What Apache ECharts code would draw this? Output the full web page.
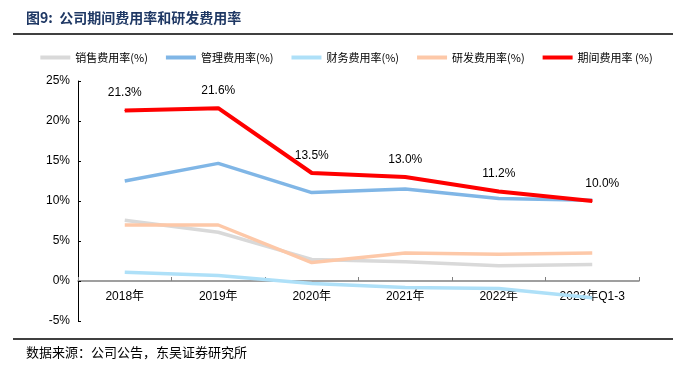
<!DOCTYPE html>
<html><head><meta charset="utf-8">
<script src="https://cdn.jsdelivr.net/npm/echarts@6/dist/echarts.min.js"></script>
<style>html,body{margin:0;padding:0;background:#fff}#c{width:693px;height:374px}</style>
</head><body><div id="c"></div>
<script>
var categories = ['2018年','2019年','2020年','2021年','2022年','2023年Q1-3'];
var sales = [7.6, 6.1, 2.7, 2.4, 1.9, 2.05];
var admin = [12.5, 14.7, 11.05, 11.5, 10.3, 10.1];
var finance = [1.1, 0.7, -0.3, -0.8, -0.95, -2.1];
var rnd = [7.0, 7.0, 2.3, 3.5, 3.35, 3.5];
var period = [21.3, 21.6, 13.5, 13.0, 11.2, 10.0];
var seriesNames = ['销售费用率(%)','管理费用率(%)','财务费用率(%)','研发费用率(%)','期间费用率 (%)'];
var yTicks = [-5, 0, 5, 10, 15, 20, 25];

var colors = ['#d9d9d9','#80b6e6','#aee0f8','#fdc8a8','#ff0000'];
var datas = [sales, admin, finance, rnd, period];
var font = '"Noto Sans CJK SC", sans-serif';

var gridTop = 81, gridBottom = 53, chartH = 374;
var plotH = chartH - gridTop - gridBottom;
var yMin = yTicks[0], yMax = yTicks[yTicks.length-1];
// offset the x axis up so that it sits on the zero line
var zeroOffset = -plotH * (0 - yMin) / (yMax - yMin);

var chart = echarts.init(document.getElementById('c'), null, {renderer:'canvas'});
var series = datas.map(function(d, i){
  var s = {
    name: seriesNames[i], type:'line', data:d, symbol:'none',
    lineStyle:{color:colors[i], width: i===4 ? 4 : 3.5},
    itemStyle:{color:colors[i]}, z: 2+i, animation:false
  };
  if (i===4) {
    s.symbol = 'circle'; s.symbolSize = 1; s.showSymbol = true;
    s.data = d.map(function(v, k){
      return k === d.length-1 ? {value:v, label:{offset:[10,0]}} : v;
    });
    s.label = {show:true, position:'top', distance:11, color:'#000', fontSize:12,
      fontFamily:'Arial, "Liberation Sans", sans-serif',
      formatter:function(p){var v = Array.isArray(p.value)?p.value[1]:p.value; return Number(v).toFixed(1)+'%';}};
  }
  return s;
});

chart.setOption({
  animation:false,
  graphic:[
    {type:'text', left:26, top:11, style:{text:'图9:  公司期间费用率和研发费用率', fill:'#1f3864', font:'bold 14px "Noto Sans CJK SC", serif'}},
    {type:'line', shape:{x1:13,y1:34,x2:673,y2:34}, style:{stroke:'#000', lineWidth:1.5}},
    {type:'line', shape:{x1:13,y1:339,x2:673,y2:339}, style:{stroke:'#000', lineWidth:1.5}},
    {type:'text', left:26, top:346, style:{text:'数据来源：公司公告，东吴证券研究所', fill:'#000', font:'13px "Noto Sans CJK SC", serif'}}
  ],
  legend:{
    top:47, left:'center', itemWidth:30, itemHeight:4, itemGap:18,
    icon:'rect',
    textStyle:{fontSize:11, color:'#000', fontFamily:font},
    data:seriesNames
  },
  grid:{left:78, right:54, top:gridTop, bottom:gridBottom, containLabel:false},
  xAxis:{
    type:'category', data:categories, boundaryGap:true,
    position:'bottom', offset:zeroOffset,
    axisLine:{onZero:false, lineStyle:{color:'#808080', width:1.5}},
    axisTick:{show:true, inside:true, length:4, lineStyle:{color:'#808080'}},
    axisLabel:{color:'#000', fontSize:12, margin:10, fontFamily:'Arial, "Liberation Sans", "Noto Sans CJK SC", sans-serif'},
    splitLine:{show:false}
  },
  yAxis:{
    type:'value', min:yMin, max:yMax, interval:5,
    axisLine:{show:true, lineStyle:{color:'#000'}},
    axisTick:{show:true, inside:true, length:3, lineStyle:{color:'#000'}},
    axisLabel:{color:'#000', fontSize:12, margin:8, formatter:'{value}%', fontFamily:'Arial, "Liberation Sans", sans-serif'},
    splitLine:{show:false}
  },
  series:series
});
</script></body></html>
